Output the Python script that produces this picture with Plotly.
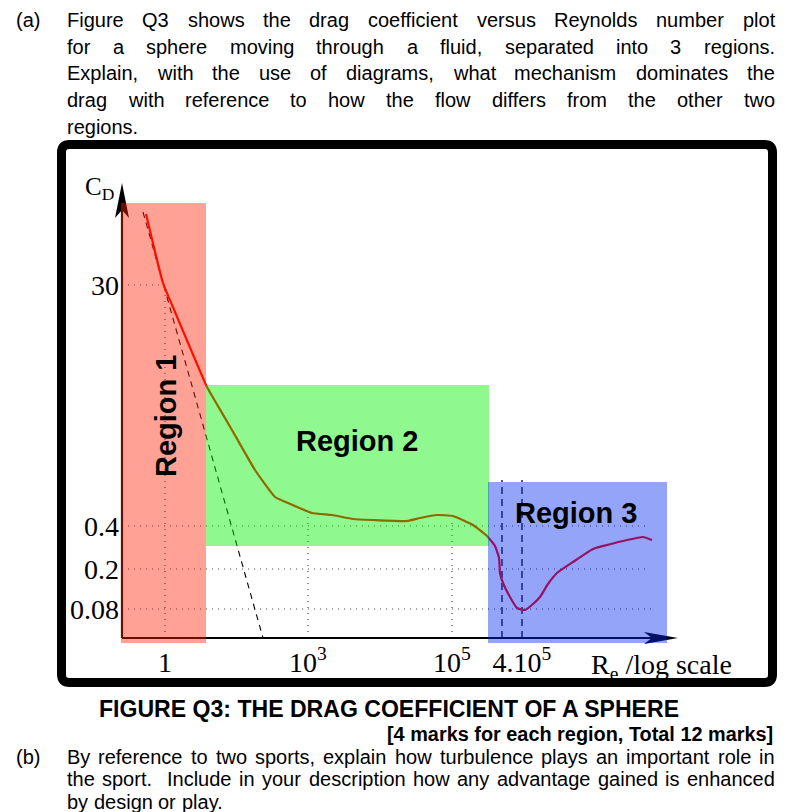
import plotly.graph_objects as go

W, H = 798, 812

# ---------------- data (schematic positions along the drawn axes) ----------------
# drag-coefficient curve: horizontal = log Re position, vertical = C_D position
curve_x = [24, 41, 53, 85, 93, 110, 133, 153, 166, 190, 210, 231, 251, 285, 298, 315,
           331, 351, 365, 373, 377, 378, 381, 388, 395, 403, 411, 418, 426, 435, 451,
           471, 485, 505, 521, 530]
curve_y = [424, 355, 326, 251, 237, 208, 168, 141, 135, 125, 123, 119, 118, 117, 120, 123,
           122, 113, 102, 92, 80, 65, 55, 41, 30, 28, 34, 41, 54, 65, 76,
           89, 93, 98, 101, 98]
# Stokes-law asymptote (dashed)
stokes_x = [21, 141]
stokes_y = [426, 0]

x_tick_pos = [43, 186, 330, 400]
x_tick_text = ["1", "10<sup>3</sup>", "10<sup>5</sup>", "4.10<sup>5</sup>"]
x_grid_top = [353, 130, 120]          # dotted verticals at the first three x ticks

y_tick_pos = [353, 112, 69, 29]
y_tick_text = ["30", "0.4", "0.2", "0.08"]
y_grid_end = [43, 523, 523, 530]      # dotted horizontals length

transition_x = [380, 400]             # dashed verticals (critical Re)
transition_top = 158

region_names = ["Region 1", "Region 2", "Region 3"]
region_x0 = [-1, 84, 366]
region_x1 = [84, 367, 545]
region_y0 = [-5, 92, -5]
region_y1 = [435, 253, 156]
region_colors = ["rgba(255,30,0,0.42)", "rgba(0,240,0,0.44)", "rgba(0,40,240,0.42)"]
region_label_x = [44, 235, 454]
region_label_y = [222, 197, 125]
region_label_angle = [-90, 0, 0]

x_axis_len = 556
y_axis_len = 455

# ---------------- text ----------------
top_lines = [
    ("Figure Q3 shows the drag coefficient versus Reynolds number plot", True, 20),
    ("for a sphere moving through a fluid, separated into 3 regions.", True, 46.5),
    ("Explain, with the use of diagrams, what mechanism dominates the", True, 73),
    ("drag with reference to how the flow differs from the other two", True, 100),
    ("regions.", False, 127),
]
bottom_lines = [
    ("By reference to two sports, explain how turbulence plays an important role in", True, 756.5),
    ("the sport.  Include in your description how any advantage gained is enhanced", True, 779),
    ("by design or play.", False, 801.5),
]
caption = "FIGURE Q3: THE DRAG COEFFICIENT OF A SPHERE"
marks = "[4 marks for each region, Total 12 marks]"

SANS = "Liberation Sans, Arial, Helvetica, sans-serif"
SERIF = "Liberation Serif, Times New Roman, serif"

# Arial metrics (1/1000 em) for layout of justified text
REG = dict(zip("abcdefghijklmnopqrstuvwxyz",
               [556, 556, 500, 556, 556, 278, 556, 556, 222, 222, 500, 222, 833, 556, 556, 556,
                556, 333, 500, 278, 556, 500, 722, 500, 500, 500]))
REG.update(zip("ABCDEFGHIJKLMNOPQRSTUVWXYZ",
               [667, 667, 722, 722, 667, 611, 778, 722, 278, 500, 667, 556, 833, 722, 778, 667,
                778, 722, 667, 611, 722, 667, 944, 667, 667, 611]))
REG.update({" ": 278, ".": 278, ",": 278, ":": 278, "(": 333, ")": 333, "[": 278, "]": 278})
REG.update({d: 556 for d in "0123456789"})
BOLD = dict(zip("abcdefghijklmnopqrstuvwxyz",
                [556, 611, 556, 611, 556, 333, 611, 611, 278, 278, 556, 278, 889, 611, 611, 611,
                 611, 389, 556, 333, 611, 556, 778, 556, 556, 500]))
BOLD.update(zip("ABCDEFGHIJKLMNOPQRSTUVWXYZ",
                [722, 722, 722, 722, 667, 611, 778, 722, 278, 556, 722, 611, 833, 722, 778, 667,
                 778, 722, 667, 611, 722, 667, 944, 667, 667, 611]))
BOLD.update({" ": 278, ".": 278, ",": 278, ":": 333, "(": 333, ")": 333, "[": 333, "]": 333})
BOLD.update({d: 556 for d in "0123456789"})


def tw(s, size, bold=False):
    m = BOLD if bold else REG
    return sum(m.get(c, 556) for c in s) / 1000.0 * size


def px(xp):
    return xp / W


def py(yp):
    return 1 - yp / H


annotations = []


def add_text(x, y, text, size, xanchor="left", bold=False, family=SANS, angle=0):
    annotations.append(dict(
        x=px(x), y=py(y), xref="paper", yref="paper", text=f"<b>{text}</b>" if bold else text,
        showarrow=False, xanchor=xanchor, yanchor="middle", textangle=angle,
        font=dict(family=family, size=size, color="black"), borderpad=0, borderwidth=0))


def add_line(line, y, justify, size=20, L=67, R=775):
    words = line.split(" ")
    widths = [tw(w, size) for w in words]
    if justify and len(words) > 1:
        gap = (R - L - sum(widths)) / (len(words) - 1)
    else:
        gap = tw(" ", size)
    x = L
    for w, wd in zip(words, widths):
        if w:
            add_text(x, y, w, size)
        x += wd + gap


add_text(16, 20, "(a)", 20)
for t, j, y in top_lines:
    add_line(t, y, j)
add_text(16, 756.5, "(b)", 20)
for t, j, y in bottom_lines:
    add_line(t, y, j)

cap_size = 582 / tw(caption, 1, True)
add_text(389, 709, caption, cap_size, xanchor="center", bold=True)
marks_size = 388 / tw(marks, 1, True)
add_text(773, 734, marks, marks_size, xanchor="right", bold=True)

# axis titles
add_text(85, 189, "C<sub>D</sub>", 25, family=SERIF)
add_text(591, 666, "R<sub>e</sub> /log scale", 28, family=SERIF)

# region labels
for name, lx, ly, ang in zip(region_names, region_label_x, region_label_y, region_label_angle):
    annotations.append(dict(x=lx, y=ly, xref="x", yref="y", text=f"<b>{name}</b>", showarrow=False,
                            textangle=ang, xanchor="center", yanchor="middle",
                            font=dict(family=SANS, size=29, color="black")))

# ---------------- traces ----------------
fig = go.Figure()

# dotted grid
gx, gy = [], []
for yv, xe in zip(y_tick_pos, y_grid_end):
    gx += [0, xe, None]
    gy += [yv, yv, None]
for xv, yt in zip(x_tick_pos[:3], x_grid_top):
    gx += [xv, xv, None]
    gy += [0, yt, None]
fig.add_trace(go.Scatter(x=gx, y=gy, mode="lines", line=dict(color="#444444", width=1.2, dash="1px,5px"),
                         hoverinfo="skip", showlegend=False))

# dashed transition lines
tx, ty = [], []
for xv in transition_x:
    tx += [xv, xv, None]
    ty += [0, transition_top, None]
fig.add_trace(go.Scatter(x=tx, y=ty, mode="lines", line=dict(color="black", width=1.3, dash="7px,5px"),
                         hoverinfo="skip", showlegend=False))

# Stokes asymptote
fig.add_trace(go.Scatter(x=stokes_x, y=stokes_y, mode="lines", line=dict(color="black", width=1.1, dash="6px,5px"),
                         hoverinfo="skip", showlegend=False))

# axes lines with arrowheads
fig.add_trace(go.Scatter(x=[0, 0, None, 0, x_axis_len - 20], y=[0, y_axis_len - 20, None, 0, 0], mode="lines",
                         line=dict(color="black", width=2.2), hoverinfo="skip", showlegend=False))
fig.add_trace(go.Scatter(x=[0, -7, 0, 7, 0], y=[y_axis_len, y_axis_len - 35, y_axis_len - 27, y_axis_len - 35, y_axis_len],
                         mode="lines", fill="toself", fillcolor="black", line=dict(width=0, color="black"),
                         hoverinfo="skip", showlegend=False))
fig.add_trace(go.Scatter(x=[x_axis_len, x_axis_len - 34, x_axis_len - 26, x_axis_len - 34, x_axis_len], y=[0, -6, 0, 6, 0],
                         mode="lines", fill="toself", fillcolor="black", line=dict(width=0, color="black"),
                         hoverinfo="skip", showlegend=False))

# drag curve
fig.add_trace(go.Scatter(x=curve_x, y=curve_y, mode="lines", line=dict(color="red", width=2.2, shape="spline", smoothing=0.4),
                         hoverinfo="skip", showlegend=False))

# ---------------- shapes ----------------
shapes = []
for x0, x1, y0, y1, c in zip(region_x0, region_x1, region_y0, region_y1, region_colors):
    shapes.append(dict(type="rect", xref="x", yref="y", x0=x0, x1=x1, y0=y0, y1=y1,
                       fillcolor=c, line=dict(width=0), layer="above"))

# rounded black frame
L, R, T, B, r = 61.5, 772.5, 144.5, 682.5, 8


def P(a, b):
    return f"{px(a):.5f},{py(b):.5f}"


path = (f"M {P(L + r, T)} L {P(R - r, T)} Q {P(R, T)} {P(R, T + r)} L {P(R, B - r)} Q {P(R, B)} {P(R - r, B)} "
        f"L {P(L + r, B)} Q {P(L, B)} {P(L, B - r)} L {P(L, T + r)} Q {P(L, T)} {P(L + r, T)} Z")
shapes.append(dict(type="path", xref="paper", yref="paper", path=path, line=dict(color="black", width=9),
                   layer="above"))

fig.update_layout(
    width=W, height=H, autosize=False,
    margin=dict(l=0, r=0, t=0, b=0),
    paper_bgcolor="white", plot_bgcolor="rgba(0,0,0,0)",
    showlegend=False,
    xaxis=dict(domain=[px(60), px(720)], range=[-62, 598], anchor="free", position=py(638),
               showgrid=False, zeroline=False, showline=False, ticks="",
               tickmode="array", tickvals=x_tick_pos, ticktext=x_tick_text,
               tickfont=dict(family=SERIF, size=28, color="black"), ticklabelstandoff=5),
    yaxis=dict(domain=[py(680), py(150)], range=[-42, 488], anchor="free", position=px(122),
               showgrid=False, zeroline=False, showline=False, ticks="",
               tickmode="array", tickvals=y_tick_pos, ticktext=y_tick_text,
               tickfont=dict(family=SERIF, size=28, color="black"), ticklabelstandoff=3),
    shapes=shapes,
    annotations=annotations,
)

fig.write_html("out.html")
